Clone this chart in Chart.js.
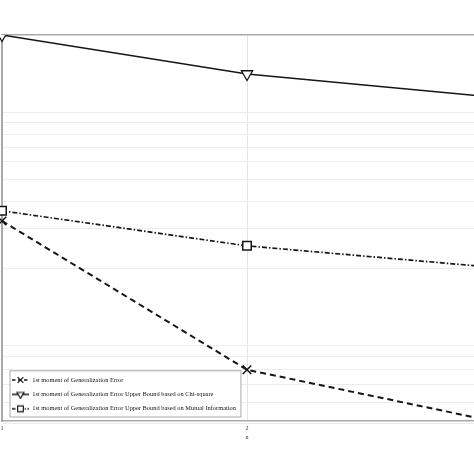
<!DOCTYPE html>
<html lang="en">
<head>
<meta charset="UTF-8">
<title>Generalization error moments</title>
<script src="https://cdn.jsdelivr.net/npm/chart.js"></script>
<style>
  body { margin: 0; padding: 0; width: 474px; height: 474px; overflow: hidden; background: #fff; }
  #chart { position: absolute; left: 0; top: 0; }
</style>
</head>
<body>
<canvas id="chart" width="500" height="474"></canvas>
<script>
  // values (y axis is logarithmic, labels cut off)
  const nValues = [1, 2, 3];
  const errorMoment = [32.6, 7.0, 4.12];
  const chiSquareBound = [223, 149, 117.5];
  const mutualInfoBound = [36.2, 25.2, 20.2];
  // horizontal grid lines that show in the figure
  const gridValues = [4, 5, 6, 7, 8, 9, 20, 30, 40, 50, 60, 70, 80, 90, 100];
  const seriesNames = [
    '1st moment of Generalization Error',
    '1st moment of Generalization Error Upper Bound based on Chi-square',
    '1st moment of Generalization Error Upper Bound based on Mutual Information'
  ];

  const ink = '#161616';
  const frame = '#a9a9a9';
  const serif = '"Liberation Serif", "DejaVu Serif", serif';

  // little line+marker pictures for the legend
  function legendSample(dash, style, rotation) {
    const c = document.createElement('canvas');
    c.width = 17;
    c.height = 10;
    const g = c.getContext('2d');
    g.strokeStyle = ink;
    g.fillStyle = '#fff';
    g.lineWidth = 1.5;
    g.setLineDash(dash);
    g.beginPath();
    g.moveTo(0, 5);
    g.lineTo(17, 5);
    g.stroke();
    g.setLineDash([]);
    g.lineWidth = 1.2;
    Chart.helpers.drawPoint(g, { pointStyle: style, radius: 4, rotation: rotation, borderWidth: 1.2 }, 8.5, 5);
    return c;
  }

  const samples = [
    legendSample([3.5, 2.5], 'crossRot', 0),
    legendSample([], 'triangle', 180),
    legendSample([3.5, 1.5, 1.2, 1.5], 'rect', 0)
  ];

  // put the legend in the lower left corner of the plot, framed,
  // and draw it again on top of the lines
  const legendFrame = {
    id: 'legendFrame',
    afterLayout(chart) {
      const lg = chart.legend;
      if (!lg) return;
      const area = chart.chartArea;
      const dx = area.left + 2 - lg.left;
      const dy = area.bottom - 1 - lg.bottom;
      lg.left += dx;
      lg.right += dx;
      lg.top += dy;
      lg.bottom += dy;
      lg.legendHitBoxes.forEach(b => { b.left += dx; b.top += dy; });
    },
    afterDatasetsDraw(chart) {
      const lg = chart.legend;
      if (!lg || !lg.legendHitBoxes || !lg.legendHitBoxes.length) return;
      const hb = lg.legendHitBoxes;
      const left = Math.min(...hb.map(b => b.left)) - 4;
      const top = Math.min(...hb.map(b => b.top)) - 6;
      const right = Math.max(...hb.map(b => b.left + b.width)) + 3;
      const bottom = Math.max(...hb.map(b => b.top + b.height)) + 5;
      const ctx = chart.ctx;
      ctx.save();
      ctx.fillStyle = '#fff';
      ctx.fillRect(left, top, right - left, bottom - top);
      ctx.strokeStyle = frame;
      ctx.lineWidth = 1;
      ctx.strokeRect(left, top, right - left, bottom - top);
      ctx.restore();
      lg.draw();
    }
  };

  const ctx = document.getElementById('chart').getContext('2d');
  const chart = new Chart(ctx, {
    type: 'line',
    data: {
      labels: nValues,
      datasets: [
        {
          label: seriesNames[0],
          data: errorMoment,
          borderColor: ink,
          borderWidth: 2,
          borderDash: [6, 4],
          pointStyle: 'crossRot',
          pointRadius: 6,
          pointBorderWidth: 1.5,
          pointBackgroundColor: ink,
          pointBorderColor: ink
        },
        {
          label: seriesNames[1],
          data: chiSquareBound,
          borderColor: ink,
          borderWidth: 1.5,
          pointStyle: 'triangle',
          pointRotation: 180,
          pointRadius: 6.5,
          pointBorderWidth: 1.3,
          pointBackgroundColor: '#fff',
          pointBorderColor: ink
        },
        {
          label: seriesNames[2],
          data: mutualInfoBound,
          borderColor: ink,
          borderWidth: 1.7,
          borderDash: [5, 2, 1.5, 2],
          pointStyle: 'rect',
          pointRadius: 6,
          pointBorderWidth: 1.5,
          pointBackgroundColor: '#fff',
          pointBorderColor: ink
        }
      ]
    },
    options: {
      responsive: false,
      animation: false,
      layout: { autoPadding: false, padding: { left: 2, top: 35, right: 8, bottom: 33 } },
      elements: { line: { tension: 0, fill: false } },
      plugins: {
        tooltip: { enabled: false },
        legend: {
          position: 'chartArea',
          align: 'end',
          labels: {
            usePointStyle: true,
            pointStyleWidth: 17,
            boxHeight: 6,
            padding: 8,
            color: ink,
            font: { family: serif, size: 6.4 },
            generateLabels(chart) {
              return chart.data.datasets.map((ds, i) => ({
                text: ds.label,
                pointStyle: samples[i],
                fillStyle: 'rgba(0,0,0,0)',
                strokeStyle: 'rgba(0,0,0,0)',
                lineWidth: 0,
                hidden: false,
                fontColor: ink,
                datasetIndex: i
              }));
            }
          }
        }
      },
      scales: {
        x: {
          type: 'category',
          position: 'bottom',
          grid: { color: '#e4e4e4', lineWidth: 1, drawTicks: false },
          border: { color: frame, width: 1.5 },
          ticks: { color: '#333', padding: 4, font: { family: serif, size: 6 } },
          title: { display: true, text: 'n', color: '#333', padding: 0, font: { family: serif, size: 6 } },
          afterFit(s) {
            s.height = 20;
            s.paddingLeft = 0;
            s.paddingRight = 0;
          }
        },
        xTop: {
          type: 'category',
          position: 'top',
          labels: nValues,
          grid: { display: false, drawTicks: false },
          border: { color: frame, width: 1.5 },
          ticks: { display: false },
          afterFit(s) { s.height = 0; }
        },
        y: {
          type: 'logarithmic',
          min: 4.12,
          max: 223,
          grid: { color: '#ececec', lineWidth: 1, drawTicks: false },
          border: { color: frame, width: 2 },
          ticks: { display: false },
          afterBuildTicks(s) { s.ticks = gridValues.map(v => ({ value: v })); },
          afterFit(s) { s.width = 0; }
        }
      }
    },
    plugins: [legendFrame]
  });
</script>
</body>
</html>
